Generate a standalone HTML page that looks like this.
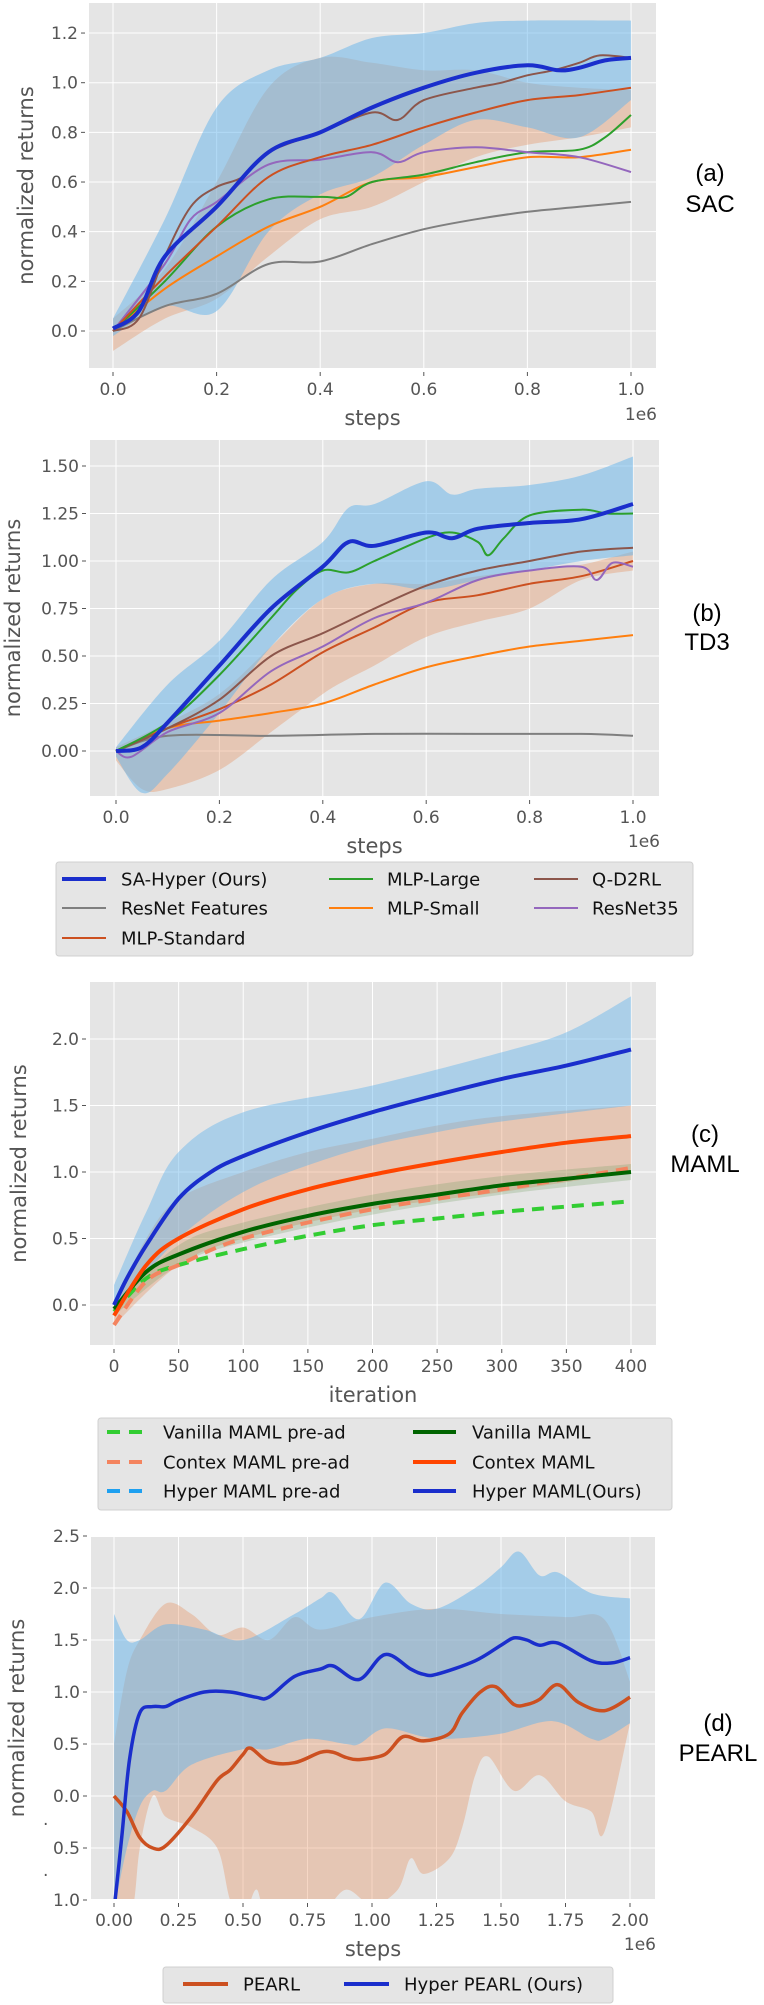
<!DOCTYPE html>
<html><head><meta charset="utf-8">
<style>
html,body{margin:0;padding:0;background:#fff;}
svg{display:block;}
.t{font-family:"DejaVu Sans","Liberation Sans",sans-serif;font-size:17px;fill:#555;}
.lab{font-family:"DejaVu Sans","Liberation Sans",sans-serif;font-size:21px;fill:#555;}
.lg{font-family:"DejaVu Sans","Liberation Sans",sans-serif;font-size:18px;fill:#111;}
.pl{font-family:"Liberation Sans",Arial,sans-serif;font-size:24px;fill:#000;}
</style></head><body>
<svg id="s" width="764" height="2005" xmlns="http://www.w3.org/2000/svg">
<defs>
<clipPath id="ca"><rect x="89" y="3" width="567" height="365"/></clipPath>
<clipPath id="cb"><rect x="90" y="440" width="569" height="356"/></clipPath>
<clipPath id="cc"><rect x="90" y="982" width="566" height="363"/></clipPath>
<clipPath id="cd"><rect x="91" y="1537" width="564" height="362"/></clipPath>
</defs>
</svg>
<script>
var S=document.getElementById('s');var NS='http://www.w3.org/2000/svg';
function el(t,a,txt,p){var e=document.createElementNS(NS,t);for(var k in a)e.setAttribute(k,a[k]);if(txt!=null)e.textContent=txt;(p||S).appendChild(e);return e;}
function cr(pts){
 var d='M'+pts[0][0].toFixed(1)+','+pts[0][1].toFixed(1);
 for(var i=0;i<pts.length-1;i++){var p0=pts[i-1]||pts[i],p1=pts[i],p2=pts[i+1],p3=pts[i+2]||p2;
  var c1=[p1[0]+(p2[0]-p0[0])/6,p1[1]+(p2[1]-p0[1])/6],c2=[p2[0]-(p3[0]-p1[0])/6,p2[1]-(p3[1]-p1[1])/6];
  d+=' C'+c1[0].toFixed(1)+','+c1[1].toFixed(1)+' '+c2[0].toFixed(1)+','+c2[1].toFixed(1)+' '+p2[0].toFixed(1)+','+p2[1].toFixed(1);}
 return d;}
function mk(P,a){var r=[];for(var i=0;i<a.length;i+=2)r.push([P.x0+a[i]*P.sx,P.y0-a[i+1]*P.sy]);return r;}
function line(P,a,col,w,dash){var at={d:cr(mk(P,a)),fill:'none',stroke:col,'stroke-width':w,'stroke-linejoin':'round','clip-path':'url(#'+P.clip+')'};if(dash)at['stroke-dasharray']=dash;el('path',at);}
function band(P,up,lo,col,op){var u=mk(P,up),l=mk(P,lo).reverse();var d=cr(u);var dl=cr(l);d+=' L'+dl.slice(1);d+='Z';el('path',{d:d,fill:col,'fill-opacity':op,stroke:'none','clip-path':'url(#'+P.clip+')'});}
function axes(P,box,yt,xt,xlab,ylx){
 el('rect',{x:box[0],y:box[1],width:box[2]-box[0],height:box[3]-box[1],fill:'#e5e5e5'});
 yt.forEach(function(t){var y=P.y0-t[0]*P.sy;el('line',{x1:box[0],x2:box[2],y1:y,y2:y,stroke:'#fff','stroke-width':1});
  el('line',{x1:box[0]-8,x2:box[0]-4,y1:y,y2:y,stroke:'#555','stroke-width':1});
  el('text',{x:box[0]-11,y:y+6,'text-anchor':'end','class':'t'},t[1]);});
 xt.forEach(function(t){var x=P.x0+t[0]*P.sx;el('line',{x1:x,x2:x,y1:box[1],y2:box[3],stroke:'#fff','stroke-width':1});
  el('line',{x1:x,x2:x,y1:box[3]+4,y2:box[3]+8,stroke:'#555','stroke-width':1});
  el('text',{x:x,y:box[3]+27,'text-anchor':'middle','class':'t'},t[1]);});
 el('text',{x:(box[0]+box[2])/2,y:box[3]+57,'text-anchor':'middle','class':'lab'},xlab);
 var cy=(box[1]+box[3])/2;el('text',{x:ylx,y:cy,'text-anchor':'middle','class':'lab',transform:'rotate(-90 '+ylx+' '+cy+')'},'normalized returns');
}
var BL='#1a2ecc',BF='rgb(100,180,235)',PF='rgb(230,140,90)';
var A={x0:113,sx:518,y0:331,sy:248.3,clip:'ca'};
axes(A,[89,3,656,368],[[0,'0.0'],[0.2,'0.2'],[0.4,'0.4'],[0.6,'0.6'],[0.8,'0.8'],[1,'1.0'],[1.2,'1.2']],[[0,'0.0'],[0.2,'0.2'],[0.4,'0.4'],[0.6,'0.6'],[0.8,'0.8'],[1,'1.0']],'steps',33);
el('text',{x:657,y:420,'text-anchor':'end','class':'t'},'1e6');
band(A,[0,.05,.1,.25,.2,.6,.3,.98,.4,1.1,.5,1.08,.6,1.05,.7,1.05,.8,1.0,.9,.98,1,.97],[0,-.08,.1,.05,.2,.13,.3,.3,.4,.45,.5,.5,.6,.6,.7,.7,.8,.75,.9,.78,1,.82],PF,.35);
band(A,[0,.05,.1,.45,.2,.9,.3,1.05,.4,1.1,.5,1.18,.6,1.2,.7,1.24,.8,1.25,1,1.25],[0,-.02,.1,.1,.2,.08,.3,.4,.4,.55,.5,.62,.6,.75,.7,.85,.8,.82,.9,.78,1,.93],BF,.5);
line(A,[0,0,.1,.1,.2,.15,.3,.27,.4,.28,.5,.35,.6,.41,.7,.45,.8,.48,.9,.5,1,.52],'#7f7f7f',2);
line(A,[0,0,.1,.17,.2,.3,.3,.42,.4,.5,.5,.6,.6,.62,.7,.66,.8,.7,.9,.7,1,.73],'#ff7f0e',2);
line(A,[0,0,.1,.2,.2,.42,.3,.53,.4,.54,.45,.54,.5,.6,.6,.63,.7,.68,.8,.72,.9,.73,.95,.78,1,.87],'#2ca02c',2);
line(A,[0,0,.1,.27,.15,.45,.2,.52,.3,.67,.4,.69,.5,.72,.55,.68,.6,.72,.7,.74,.8,.72,.9,.7,1,.64],'#9467bd',2);
line(A,[0,0,.1,.22,.2,.42,.3,.62,.4,.7,.5,.75,.6,.82,.7,.88,.8,.93,.9,.95,1,.98],'#cc5020',2);
line(A,[0,0,.05,.05,.1,.3,.15,.5,.2,.58,.25,.62,.3,.72,.4,.8,.5,.88,.55,.85,.6,.93,.7,.98,.75,1.0,.8,1.03,.85,1.05,.9,1.08,.94,1.11,1,1.1],'#8c564b',2);
line(A,[0,.01,.05,.08,.1,.3,.2,.5,.3,.72,.4,.8,.5,.9,.6,.98,.7,1.04,.8,1.07,.86,1.05,.9,1.06,.95,1.09,1,1.1],BL,4);
el('text',{x:710,y:181,'text-anchor':'middle','class':'pl'},'(a)');
el('text',{x:710,y:212,'text-anchor':'middle','class':'pl'},'SAC');
var B={x0:116,sx:517,y0:751,sy:190,clip:'cb'};
axes(B,[90,440,659,796],[[0,'0.00'],[.25,'0.25'],[.5,'0.50'],[.75,'0.75'],[1,'1.00'],[1.25,'1.25'],[1.5,'1.50']],[[0,'0.0'],[0.2,'0.2'],[0.4,'0.4'],[0.6,'0.6'],[0.8,'0.8'],[1,'1.0']],'steps',20);
el('text',{x:660,y:847,'text-anchor':'end','class':'t'},'1e6');
band(B,[0,.02,.1,.15,.2,.3,.3,.55,.4,.8,.5,.88,.6,.88,.7,.92,.8,.95,.9,.98,1,1.05],[0,-.05,.05,-.2,.1,-.2,.2,-.1,.3,.1,.4,.3,.45,.38,.5,.45,.6,.6,.7,.68,.8,.75,.9,.9,1,.95],PF,.35);
band(B,[0,.02,.1,.35,.2,.58,.3,.9,.4,1.1,.45,1.28,.5,1.3,.6,1.42,.65,1.35,.7,1.38,.8,1.4,.9,1.45,1,1.55],[0,-.03,.05,-.22,.1,-.12,.2,.2,.3,.55,.4,.8,.5,.88,.6,.85,.7,.9,.8,.95,.9,1.0,1,1.03],BF,.5);
line(B,[0,0,.1,.08,.3,.08,.5,.09,.7,.09,.9,.09,1,.08],'#7f7f7f',2);
line(B,[0,0,.1,.12,.2,.16,.3,.2,.4,.25,.5,.35,.6,.44,.7,.5,.8,.55,.9,.58,1,.61],'#ff7f0e',2);
line(B,[0,0,.1,.12,.2,.22,.3,.35,.4,.52,.5,.65,.6,.78,.7,.82,.8,.88,.9,.92,1,1.0],'#cc5020',2);
line(B,[0,0,.03,-.03,.1,.1,.2,.2,.3,.42,.4,.55,.5,.7,.6,.78,.7,.9,.8,.95,.9,.97,.93,.9,.96,.99,1,.97],'#9467bd',2);
line(B,[0,0,.1,.12,.2,.27,.3,.5,.4,.62,.5,.75,.6,.87,.7,.95,.8,1.0,.9,1.05,1,1.07],'#8c564b',2);
line(B,[0,0,.1,.15,.2,.4,.3,.7,.35,.85,.4,.95,.45,.94,.5,1.0,.6,1.12,.65,1.15,.7,1.1,.72,1.03,.75,1.12,.8,1.24,.9,1.27,.95,1.25,1,1.25],'#2ca02c',2);
line(B,[0,0,.05,.02,.1,.15,.2,.45,.3,.75,.4,.97,.45,1.1,.5,1.08,.6,1.15,.65,1.12,.7,1.17,.8,1.2,.9,1.22,1,1.3],BL,4);
el('text',{x:707,y:621,'text-anchor':'middle','class':'pl'},'(b)');
el('text',{x:707,y:650,'text-anchor':'middle','class':'pl'},'TD3');
el('rect',{x:56,y:862,width:637,height:94,rx:3,fill:'#e5e5e5',stroke:'#d0d0d0'});
[[62,121,879,BL,4,'SA-Hyper (Ours)'],[62,121,908,'#7f7f7f',2,'ResNet Features'],[62,121,938,'#cc5020',2,'MLP-Standard'],
 [329,387,879,'#2ca02c',2,'MLP-Large'],[329,387,908,'#ff7f0e',2,'MLP-Small'],[534,592,879,'#8c564b',2,'Q-D2RL'],[534,592,908,'#9467bd',2,'ResNet35']].forEach(function(e){
 el('line',{x1:e[0],x2:e[0]+44,y1:e[2],y2:e[2],stroke:e[3],'stroke-width':e[4]});el('text',{x:e[1],y:e[2]+6.5,'class':'lg'},e[5]);});
var C={x0:114,sx:1.2925,y0:1305,sy:133,clip:'cc'};
axes(C,[90,982,656,1345],[[0,'0.0'],[.5,'0.5'],[1,'1.0'],[1.5,'1.5'],[2,'2.0']],[[0,'0'],[50,'50'],[100,'100'],[150,'150'],[200,'200'],[250,'250'],[300,'300'],[350,'350'],[400,'400']],'iteration',26);
band(C,[0,0,25,.5,50,.8,100,1.0,150,1.15,200,1.25,250,1.35,300,1.42,400,1.5],[0,-.15,50,.3,100,.5,200,.72,300,.85,400,1.0],PF,.35);
band(C,[0,.15,25,.7,50,1.15,100,1.45,200,1.65,300,1.9,350,2.05,400,2.32],[0,-.05,50,.5,100,.85,150,1.05,200,1.2,250,1.3,300,1.38,400,1.5],BF,.45);
band(C,[0,0,50,.45,100,.62,200,.83,300,.97,400,1.06],[0,-.08,50,.3,100,.47,200,.68,300,.83,400,.94],'#6a9a5a',.25);
line(C,[0,-.05,25,.2,50,.3,100,.42,150,.52,200,.6,250,.65,300,.7,350,.74,400,.78],'#32cd32',4,'12 8');
line(C,[0,-.15,25,.18,50,.3,100,.5,200,.72,300,.87,400,1.03],'#f4845f',4,'12 8');
line(C,[0,-.03,25,.25,50,.38,100,.55,150,.67,200,.76,250,.83,300,.9,350,.95,400,1.0],'#006400',4);
line(C,[0,-.08,25,.3,50,.5,100,.72,150,.87,200,.98,250,1.07,300,1.15,350,1.22,400,1.27],'#ff4500',4);
line(C,[0,0,10,.2,25,.45,50,.8,75,1.0,100,1.12,150,1.3,200,1.45,250,1.58,300,1.7,350,1.8,400,1.92],BL,4);
el('text',{x:705,y:1142,'text-anchor':'middle','class':'pl'},'(c)');
el('text',{x:705,y:1172,'text-anchor':'middle','class':'pl'},'MAML');
el('rect',{x:98,y:1418,width:574,height:92,rx:3,fill:'#e5e5e5',stroke:'#d0d0d0'});
[[107,163,1432,'#32cd32','Vanilla MAML pre-ad',1],[107,163,1462,'#f4845f','Contex MAML pre-ad',1],[107,163,1491,'#1ea0f0','Hyper MAML pre-ad',1],
 [413,472,1432,'#006400','Vanilla MAML',0],[413,472,1462,'#ff4500','Contex MAML',0],[413,472,1491,BL,'Hyper MAML(Ours)',0]].forEach(function(e){
 var a={x1:e[0],x2:e[0]+43,y1:e[2],y2:e[2],stroke:e[3],'stroke-width':4};if(e[5])a['stroke-dasharray']='13 9';el('line',a);
 el('text',{x:e[1],y:e[2]+6.5,'class':'lg'},e[4]);});
var D={x0:114,sx:258,y0:1796,sy:104,clip:'cd'};
axes(D,[91,1537,655,1899],[[-1,'1.0'],[-.5,'0.5'],[0,'0.0'],[.5,'0.5'],[1,'1.0'],[1.5,'1.5'],[2,'2.0'],[2.5,'2.5']],[[0,'0.00'],[.25,'0.25'],[.5,'0.50'],[.75,'0.75'],[1,'1.00'],[1.25,'1.25'],[1.5,'1.50'],[1.75,'1.75'],[2,'2.00']],'steps',24);
el('text',{x:43,y:1825,'class':'t'},'.');el('text',{x:43,y:1876,'class':'t'},'.');
el('text',{x:656,y:1950,'text-anchor':'end','class':'t'},'1e6');
band(D,[0,.5,.05,1.2,.1,1.5,.2,1.85,.3,1.75,.4,1.55,.5,1.62,.6,1.5,.7,1.72,.8,1.6,1,1.72,1.25,1.8,1.5,1.75,1.75,1.72,1.9,1.7,2,1.1],
 [0,-1.3,.07,-1.1,.1,-.5,.15,0,.2,-.2,.3,-.3,.4,-.5,.45,-1.0,.5,-1.2,.55,-.9,.6,-1.1,.8,-1.1,.9,-.9,1,-1.05,1.1,-.9,1.15,-.6,1.2,-.75,1.3,-.6,1.35,-.3,1.4,.2,1.45,.38,1.55,.05,1.65,.2,1.75,-.05,1.85,-.15,1.9,-.35,2,.7],PF,.35);
band(D,[0,1.75,.05,1.5,.1,1.5,.2,1.65,.35,1.6,.5,1.5,.7,1.75,.8,1.9,.85,1.95,.95,1.7,1.05,2.05,1.15,1.85,1.25,1.8,1.4,2.0,1.5,2.2,1.57,2.35,1.65,2.12,1.72,2.15,1.85,1.95,2,1.9],
 [0,-1.1,.05,-.5,.1,-.1,.15,.05,.2,.05,.3,.3,.5,.45,.6,.45,.75,.55,.9,.5,.95,.5,1.05,.65,1.2,.57,1.3,.55,1.5,.6,1.7,.72,1.85,.55,1.9,.55,2,.7],BF,.5);
line(D,[0,0,.05,-.15,.1,-.4,.15,-.5,.2,-.48,.3,-.2,.4,.15,.45,.25,.5,.4,.53,.46,.6,.33,.7,.32,.8,.42,.85,.42,.9,.37,.95,.35,1.05,.4,1.12,.57,1.2,.53,1.3,.6,1.35,.8,1.42,1.0,1.48,1.05,1.55,.88,1.6,.88,1.65,.93,1.72,1.07,1.8,.9,1.9,.82,2,.95],'#cc5020',3.5);
line(D,[0,-1.1,.03,-.4,.06,.35,.1,.8,.15,.86,.2,.86,.25,.92,.35,1.0,.45,1.0,.55,.95,.6,.95,.7,1.15,.8,1.22,.85,1.25,.95,1.12,1.05,1.36,1.15,1.22,1.2,1.17,1.25,1.17,1.4,1.3,1.5,1.45,1.55,1.52,1.6,1.5,1.65,1.45,1.72,1.47,1.85,1.3,1.93,1.28,2,1.33],BL,3.5);
el('text',{x:718,y:1731,'text-anchor':'middle','class':'pl'},'(d)');
el('text',{x:718,y:1761,'text-anchor':'middle','class':'pl'},'PEARL');
el('rect',{x:163,y:1967,width:450,height:36,rx:3,fill:'#e5e5e5',stroke:'#d0d0d0'});
el('line',{x1:183,x2:228,y1:1984,y2:1984,stroke:'#cc5020','stroke-width':4});el('text',{x:243,y:1990.5,'class':'lg'},'PEARL');
el('line',{x1:344,x2:389,y1:1984,y2:1984,stroke:BL,'stroke-width':4});el('text',{x:404,y:1990.5,'class':'lg'},'Hyper PEARL (Ours)');
</script>
</body></html>
